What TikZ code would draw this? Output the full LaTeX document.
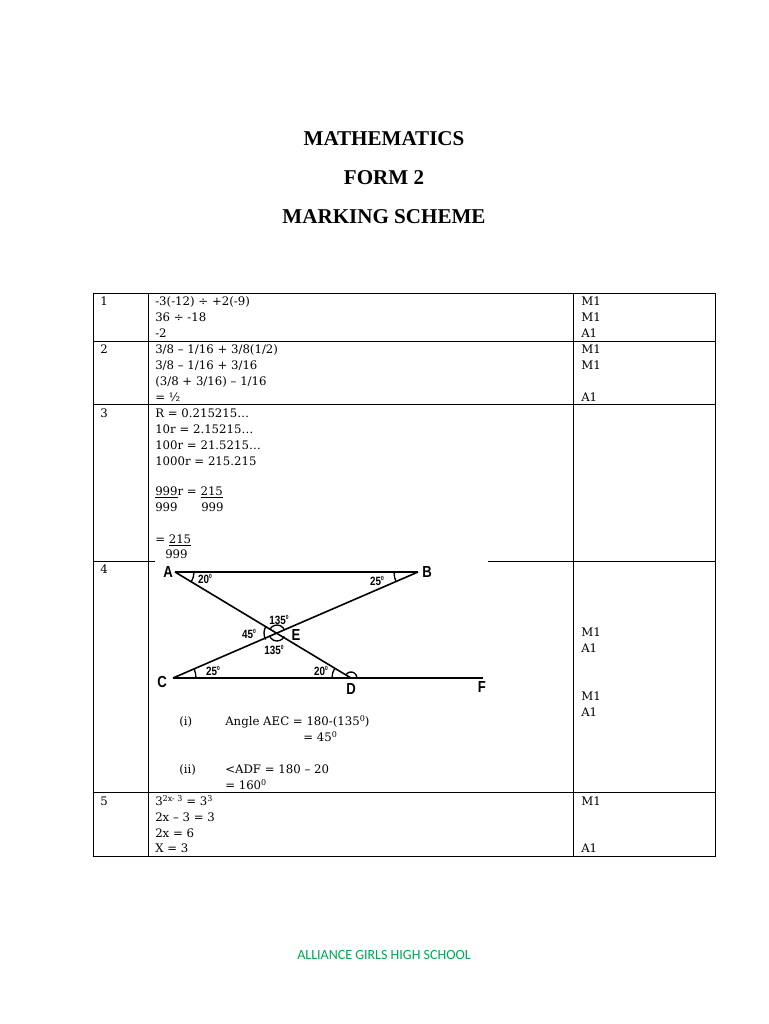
\documentclass[tikz,border=0pt]{standalone}
\usepackage{fontspec}
\usepackage{tikz}
\setmainfont{DejaVu Serif}
\newfontfamily\titlefont{Liberation Serif}
\newfontfamily\figfont[FakeStretch=0.82]{Liberation Sans}
\newfontfamily\footfont{Carlito}
\definecolor{schoolgreen}{RGB}{0,166,81}
\newcommand{\supt}[1]{\raisebox{0.62ex}{\fontsize{6}{6}\selectfont #1}}
\newcommand{\supf}{\raisebox{0.85ex}{\fontsize{4.5}{5}\selectfont 0}}
\tikzset{
    txt/.style={anchor=base west,inner sep=0pt,font=\fontsize{8.8}{10}\selectfont},
    head/.style={anchor=base,inner sep=0pt,font=\titlefont\bfseries\fontsize{15.8}{18}\selectfont},
    grid/.style={line width=0.7pt},
    fig/.style={line width=1.2pt},
    ang/.style={line width=1pt},
    lab/.style={inner sep=0pt,font=\figfont\bfseries\fontsize{9}{10}\selectfont},
    pt/.style={inner sep=0pt,font=\figfont\bfseries\fontsize{12}{14}\selectfont}
}
\begin{document}
\begin{tikzpicture}[x=0.75pt,y=-0.75pt]
    \useasboundingbox (0,0) rectangle (768,1024);

    % title
    \node[head] (t1) at (384,145) {MATHEMATICS};
    \node[head] (t2) at (384,184) {FORM 2};
    \node[head] (t3) at (384,223) {MARKING SCHEME};

    % table corners
    \coordinate (g1) at (93.5,293);
    \coordinate (g2) at (715,856);
    \coordinate (h1) at (148.5,293);
    \coordinate (h2) at (148.5,856);
    \coordinate (h3) at (573.5,293);
    \coordinate (h4) at (573.5,856);
    \coordinate (r1) at (93.5,341);
    \coordinate (r2) at (715,341);
    \coordinate (r3) at (93.5,404);
    \coordinate (r4) at (715,404);
    \coordinate (r5) at (93.5,561);
    \coordinate (r6) at (155,561);
    \coordinate (r7) at (488,561);
    \coordinate (r8) at (715,561);
    \coordinate (r9) at (93.5,792);
    \coordinate (r10) at (715,792);

    % table lines
    \draw[grid] (g1) rectangle (g2);
    \draw[grid] (h1) -- (h2);
    \draw[grid] (h3) -- (h4);
    \draw[grid] (r1) -- (r2);
    \draw[grid] (r3) -- (r4);
    \draw[grid] (r5) -- (r6);
    \draw[grid] (r7) -- (r8);
    \draw[grid] (r9) -- (r10);

    % numbers
    \node[txt] (n1) at (100,305) {1};
    \node[txt] (n2) at (100,353) {2};
    \node[txt] (n3) at (100,417) {3};
    \node[txt] (n4) at (100,573) {4};
    \node[txt] (n5) at (100,805) {5};

    % question 1
    \node[txt] (a1) at (155,305) {-3(-12) ÷ +2(-9)};
    \node[txt] (a2) at (155,321) {36 ÷ -18};
    \node[txt] (a3) at (155,337) {-2};

    % question 2
    \node[txt] (b1) at (155,353) {3/8 – 1/16 + 3/8(1/2)};
    \node[txt] (b2) at (155,369) {3/8 – 1/16 + 3/16};
    \node[txt] (b3) at (155,385) {(3/8 + 3/16) – 1/16};
    \node[txt] (b4) at (155,401) {= ½};

    % question 3
    \node[txt] (c1) at (155,417) {R = 0.215215…};
    \node[txt] (c2) at (155,433) {10r = 2.15215…};
    \node[txt] (c3) at (155,449) {100r = 21.5215…};
    \node[txt] (c4) at (155,465) {1000r = 215.215};
    \node[txt] (c5) at (155,495) {\underline{999}r = \underline{215}};
    \node[txt] (c6) at (155,511) {999};
    \node[txt] (c7) at (201,511) {999};
    \node[txt] (c8) at (155,543) {= \underline{215}};
    \node[txt] (c9) at (165,558) {999};

    % question 4 figure
    \coordinate (A) at (175,572);
    \coordinate (B) at (418,572);
    \coordinate (C) at (173,678);
    \coordinate (D) at (351,678);
    \coordinate (F) at (483,678);
    \coordinate (E) at (277,633);
    \draw[fig] (A) -- (B);
    \draw[fig] (A) -- (D);
    \draw[fig] (C) -- (B);
    \draw[fig] (C) -- (F);

    % angle marks
    \draw[ang] ([shift={(0:19)}]A) arc[start angle=0,end angle=32,radius=19];
    \draw[ang] ([shift={(157:24)}]B) arc[start angle=157,end angle=180,radius=24];
    \draw[ang] ([shift={(-23:23)}]C) arc[start angle=-23,end angle=0,radius=23];
    \draw[ang] ([shift={(180:19)}]D) arc[start angle=180,end angle=212,radius=19];
    \draw[ang] ([shift={(212:6)}]D) arc[start angle=212,end angle=360,radius=6];
    \draw[ang] ([shift={(150:13)}]E) arc[start angle=150,end angle=212,radius=13];
    \draw[ang] ([shift={(205:8)}]E) arc[start angle=205,end angle=340,radius=8];
    \draw[ang] ([shift={(25:8)}]E) arc[start angle=25,end angle=160,radius=8];

    % figure labels
    \node[pt] (la) at (168,572) {A};
    \node[pt] (lb) at (427,572) {B};
    \node[pt] (lc) at (162,682) {C};
    \node[pt] (ld) at (351,689) {D};
    \node[pt] (le) at (296,635) {E};
    \node[pt] (lf) at (482,687) {F};
    \node[lab] (d1) at (205,579) {20\supf};
    \node[lab] (d2) at (377,581) {25\supf};
    \node[lab] (d3) at (279,620) {135\supf};
    \node[lab] (d4) at (249,634) {45\supf};
    \node[lab] (d5) at (274,650) {135\supf};
    \node[lab] (d6) at (213,671) {25\supf};
    \node[lab] (d7) at (321,671) {20\supf};

    % question 4 text
    \node[txt] (e1) at (179,725) {(i)};
    \node[txt] (e2) at (225,725) {Angle AEC = 180-(135\supt{0})};
    \node[txt] (e3) at (303,741) {= 45\supt{0}};
    \node[txt] (e4) at (179,773) {(ii)};
    \node[txt] (e5) at (225,773) {<ADF = 180 – 20};
    \node[txt] (e6) at (225,789) {= 160\supt{0}};

    % question 5
    \node[txt] (f1) at (155,805) {3\supt{2x- 3} = 3\supt{3}};
    \node[txt] (f2) at (155,821) {2x – 3 = 3};
    \node[txt] (f3) at (155,837) {2x = 6};
    \node[txt] (f4) at (155,852) {X = 3};

    % marks
    \node[txt] (m1) at (581,305) {M1};
    \node[txt] (m2) at (581,321) {M1};
    \node[txt] (m3) at (581,337) {A1};
    \node[txt] (m4) at (581,353) {M1};
    \node[txt] (m5) at (581,369) {M1};
    \node[txt] (m6) at (581,401) {A1};
    \node[txt] (m7) at (581,636) {M1};
    \node[txt] (m8) at (581,652) {A1};
    \node[txt] (m9) at (581,700) {M1};
    \node[txt] (m10) at (581,716) {A1};
    \node[txt] (m11) at (581,805) {M1};
    \node[txt] (m12) at (581,852) {A1};

    % footer
    \node[inner sep=0pt,text=schoolgreen,font=\footfont\fontsize{10.5}{12}\selectfont] (foot) at (384,955) {ALLIANCE GIRLS HIGH SCHOOL};
\end{tikzpicture}
\end{document}
